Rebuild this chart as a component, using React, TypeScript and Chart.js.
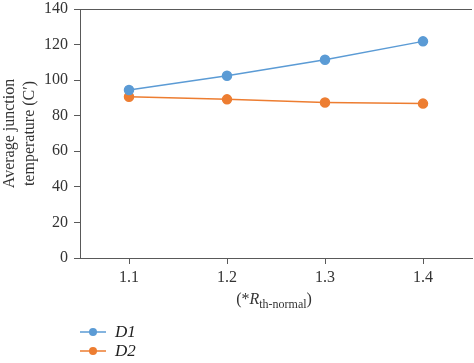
import React, { useEffect, useRef } from "react";
import { Chart, registerables } from "chart.js";

Chart.register(...registerables);

const categories = ["1.1", "1.2", "1.3", "1.4"];
const seriesD1 = [94.5, 102.5, 111.5, 121.8];
const seriesD2 = [90.7, 89.2, 87.4, 86.8];
const seriesNames = ["D1", "D2"];
const seriesColors = ["#5B9BD5", "#ED7D31"];
const yTitleLines = ["Average junction", "temperature (C′)"];

const FONT = "'Liberation Serif', 'DejaVu Serif', serif";
const AXIS_COLOR = "#595959";

const extrasPlugin = {
  id: "extras",
  afterDraw(chart: any) {
    const ctx = chart.ctx;
    const { left, right, top } = chart.chartArea;
    ctx.save();
    // top frame line
    ctx.strokeStyle = AXIS_COLOR;
    ctx.lineWidth = 1;
    ctx.beginPath();
    ctx.moveTo(left, top + 0.5);
    ctx.lineTo(right, top + 0.5);
    ctx.stroke();

    // x-axis title: (*R_th-normal)
    const cx = (left + right) / 2 - 2;
    const baseY = 304;
    const parts = [
      { t: "(*", f: `16px ${FONT}`, dy: 0 },
      { t: "R", f: `italic 16px ${FONT}`, dy: 0 },
      { t: "th-normal", f: `12px ${FONT}`, dy: 4 },
      { t: ")", f: `16px ${FONT}`, dy: 0 },
    ];
    let total = 0;
    for (const p of parts) {
      ctx.font = p.f;
      total += ctx.measureText(p.t).width;
    }
    let x = cx - total / 2;
    ctx.fillStyle = "#333";
    ctx.textBaseline = "alphabetic";
    ctx.textAlign = "left";
    for (const p of parts) {
      ctx.font = p.f;
      ctx.fillText(p.t, x, baseY + p.dy);
      x += ctx.measureText(p.t).width;
    }

    // legend
    const legendYs = [332, 351];
    chart.data.datasets.forEach((ds: any, i: number) => {
      const y = legendYs[i];
      ctx.strokeStyle = ds.borderColor;
      ctx.lineWidth = 1.5;
      ctx.beginPath();
      ctx.moveTo(80, y);
      ctx.lineTo(106, y);
      ctx.stroke();
      ctx.fillStyle = ds.backgroundColor;
      ctx.beginPath();
      ctx.arc(93, y, 4, 0, Math.PI * 2);
      ctx.fill();
      ctx.fillStyle = "#222";
      ctx.font = `italic 17px ${FONT}`;
      ctx.textBaseline = "middle";
      ctx.fillText(ds.label, 115, y + 1);
    });
    ctx.restore();
  },
};

export default function App() {
  const ref = useRef<HTMLCanvasElement | null>(null);
  useEffect(() => {
    document.body.style.margin = "0";
    const canvas = ref.current!;
    const chart = new Chart(canvas, {
      type: "line",
      data: {
        labels: categories,
        datasets: [seriesD1, seriesD2].map((d, i) => ({
          label: seriesNames[i],
          data: d,
          borderColor: seriesColors[i],
          backgroundColor: seriesColors[i],
          pointBackgroundColor: seriesColors[i],
          pointBorderColor: seriesColors[i],
          pointRadius: 4.5,
          pointHoverRadius: 4.5,
          borderWidth: 1.5,
          tension: 0,
        })),
      },
      options: {
        responsive: false,
        animation: false,
        layout: { autoPadding: false, padding: { top: 0, right: 2, left: 0, bottom: 0 } },
        plugins: {
          legend: { display: false },
          tooltip: { enabled: false },
        },
        scales: {
          x: {
            type: "category",
            offset: true,
            grid: {
              offset: false,
              drawOnChartArea: false,
              drawTicks: true,
              tickLength: 6,
              color: AXIS_COLOR,
            },
            border: { color: AXIS_COLOR, width: 1 },
            ticks: {
              color: "#333",
              font: { family: FONT, size: 16 },
              padding: 4,
              maxRotation: 0,
            },
            afterFit: (s: any) => {
              s.height = 105;
            },
          },
          y: {
            min: 0,
            max: 140,
            ticks: {
              stepSize: 20,
              color: "#333",
              font: { family: FONT, size: 16 },
              padding: 6,
            },
            grid: {
              drawOnChartArea: false,
              drawTicks: true,
              tickLength: 6,
              color: AXIS_COLOR,
            },
            border: { color: AXIS_COLOR, width: 1 },
            title: {
              display: true,
              text: yTitleLines,
              color: "#333",
              font: { family: FONT, size: 16, lineHeight: 1.25 },
              padding: { top: 0, bottom: 0 },
            },
            afterFit: (s: any) => {
              s.width = 80;
              s.paddingTop = 9;
              s.paddingBottom = 0;
            },
          },
        },
      },
      plugins: [extrasPlugin],
    });
    return () => chart.destroy();
  }, []);
  return <canvas ref={ref} width={474} height={363} />;
}
